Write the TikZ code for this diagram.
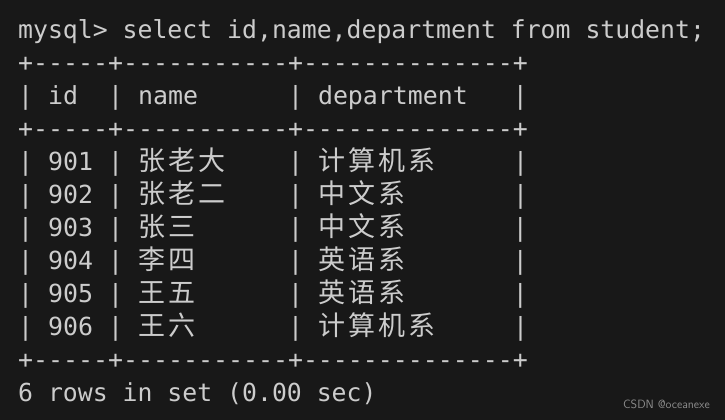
\documentclass[tikz,border=0pt]{standalone}
\usepackage{fontspec}
\setmonofont{DejaVu Sans Mono}
\newfontfamily\cjk{Noto Sans CJK SC}
\newcommand\C[1]{\makebox[30pt][l]{\cjk\fontsize{27}{27}\selectfont #1}}
\definecolor{bg}{HTML}{181818}
\definecolor{fg}{HTML}{CCCCCC}
\begin{document}
\begin{tikzpicture}[x=1pt,y=1pt,
  ln/.style={anchor=base west,inner sep=0pt,text=fg,font=\ttfamily\fontsize{24.9}{24.9}\selectfont}]
\fill[bg] (0,0) rectangle (725,-420);
\useasboundingbox (0,0) rectangle (725,-420);
\def\b#1{-38-33*#1}
\node[ln,font=\ttfamily\fontsize{24.8}{24.8}\selectfont] (l0) at (18,\b{0}) {mysql>\ select\ id,name,department\ from\ student;};
\node[ln] (l1) at (18,\b{1}) {+-----+-----------+--------------+};
\node[ln] (l2) at (18,\b{2}) {|\ id\ \ |\ name\ \ \ \ \ \ |\ department\ \ \ |};
\node[ln] (l3) at (18,\b{3}) {+-----+-----------+--------------+};
\node[ln] (l4) at (18,\b{4}) {|\ 901\ |\ \C{张}\C{老}\C{大}\ \ \ \ |\ \C{计}\C{算}\C{机}\C{系}\ \ \ \ \ |};
\node[ln] (l5) at (18,\b{5}) {|\ 902\ |\ \C{张}\C{老}\C{二}\ \ \ \ |\ \C{中}\C{文}\C{系}\ \ \ \ \ \ \ |};
\node[ln] (l6) at (18,\b{6}) {|\ 903\ |\ \C{张}\C{三}\ \ \ \ \ \ |\ \C{中}\C{文}\C{系}\ \ \ \ \ \ \ |};
\node[ln] (l7) at (18,\b{7}) {|\ 904\ |\ \C{李}\C{四}\ \ \ \ \ \ |\ \C{英}\C{语}\C{系}\ \ \ \ \ \ \ |};
\node[ln] (l8) at (18,\b{8}) {|\ 905\ |\ \C{王}\C{五}\ \ \ \ \ \ |\ \C{英}\C{语}\C{系}\ \ \ \ \ \ \ |};
\node[ln] (l9) at (18,\b{9}) {|\ 906\ |\ \C{王}\C{六}\ \ \ \ \ \ |\ \C{计}\C{算}\C{机}\C{系}\ \ \ \ \ |};
\node[ln] (l10) at (18,\b{10}) {+-----+-----------+--------------+};
\node[ln,font=\ttfamily\fontsize{24.8}{24.8}\selectfont] (l11) at (18,\b{11}) {6\ rows\ in\ set\ (0.00\ sec)};
\node[anchor=base east,inner sep=0pt,text=gray!90,font=\sffamily\fontsize{12}{12}\selectfont] (wm) at (710,-408) {CSDN @oceanexe};
\end{tikzpicture}
\end{document}
